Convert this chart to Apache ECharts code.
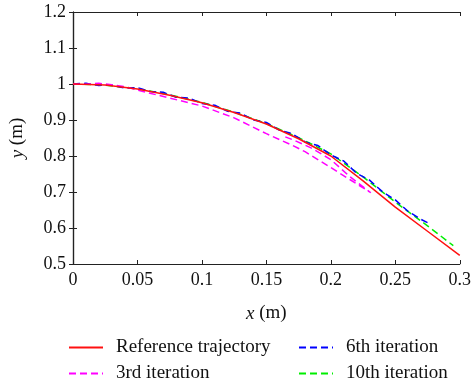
<!DOCTYPE html>
<html><head><meta charset="utf-8">
<script src="https://cdn.jsdelivr.net/npm/echarts@6/dist/echarts.min.js"></script>
<style>html,body{margin:0;padding:0;background:#fff}#c{width:474px;height:387px}</style>
</head><body><div id="c"></div>
<script>
// Data (x in m, y in m)
const refX = [0, 0.025, 0.05, 0.075, 0.1, 0.125, 0.15, 0.175, 0.2, 0.225, 0.25, 0.275, 0.3];
const refY = [1.000, 0.997, 0.986, 0.969, 0.948, 0.921, 0.889, 0.848, 0.800, 0.731, 0.658, 0.591, 0.524];

const it3X = [0, 0.01, 0.02, 0.03, 0.04, 0.05, 0.075, 0.1, 0.125, 0.15, 0.17, 0.18, 0.2, 0.215, 0.231, 0.215, 0.2, 0.185, 0.172, 0.162];
const it3Y = [1.000, 0.999, 1.002, 0.998, 0.993, 0.983, 0.961, 0.939, 0.906, 0.862, 0.830, 0.812, 0.768, 0.734, 0.698, 0.742, 0.790, 0.822, 0.843, 0.857];

const it6X = [0, 0.01, 0.02, 0.03, 0.04, 0.05, 0.06, 0.07, 0.08, 0.09, 0.1, 0.11, 0.12, 0.13, 0.14, 0.15, 0.16, 0.17, 0.18, 0.19, 0.2, 0.21, 0.22, 0.23, 0.24, 0.25, 0.26, 0.27, 0.276];
const it6Y = [1.000, 1.002, 0.996, 0.997, 0.989, 0.990, 0.979, 0.977, 0.963, 0.961, 0.946, 0.941, 0.924, 0.919, 0.900, 0.893, 0.872, 0.862, 0.839, 0.829, 0.803, 0.786, 0.752, 0.733, 0.701, 0.678, 0.646, 0.624, 0.613];

const it10X = [0, 0.025, 0.05, 0.075, 0.1, 0.125, 0.15, 0.175, 0.2, 0.225, 0.25, 0.275, 0.295];
const it10Y = [1.000, 0.997, 0.987, 0.970, 0.949, 0.922, 0.890, 0.851, 0.806, 0.742, 0.672, 0.606, 0.551];

const xTicks = {min: 0, max: 0.3, interval: 0.05};
const yTicks = {min: 0.5, max: 1.2, interval: 0.1};

const names = ['Reference trajectory', '3rd iteration', '6th iteration', '10th iteration'];
const colors = ['#ff1010', '#ff00ff', '#0000ff', '#00ee00'];

const pair = (xs, ys) => xs.map((x, i) => [x, ys[i]]);
const FONT = 'Liberation Serif';
const FS = 18;
const axisLine = {show: true, lineStyle: {color: '#222', width: 1.2}};
const tick = {show: true, inside: true, length: 4, lineStyle: {color: '#222', width: 1}};

const chart = echarts.init(document.getElementById('c'), null, {renderer: 'canvas'});

function mkSeries(i, data, dashed) {
  return {
    name: names[i], type: 'line', data: data, showSymbol: false, symbol: 'none',
    lineStyle: {color: colors[i], width: 1.5, type: dashed ? [7, 4] : 'solid'},
    itemStyle: {color: colors[i]},
    animation: false, z: 10 - i
  };
}

function mkLegend(name, left, top) {
  return {
    data: [name], left: left, top: top, itemWidth: 34, itemHeight: 14,
    selectedMode: false, padding: 0,
    itemStyle: {opacity: 0},
    textStyle: {fontFamily: FONT, fontSize: 19, color: '#111', padding: [0, 0, 0, 8]}
  };
}

chart.setOption({
  animation: false,
  textStyle: {fontFamily: FONT},
  grid: {left: 67, right: 12, top: 12, bottom: 123, containLabel: false},
  xAxis: [{
    type: 'value', min: xTicks.min, max: xTicks.max, interval: xTicks.interval,
    position: 'bottom',
    axisLine: axisLine, axisTick: tick, splitLine: {show: false},
    axisLabel: {fontFamily: FONT, fontSize: FS, color: '#111', margin: 7},
    name: '{i|x} (m)', nameLocation: 'middle', nameGap: 40,
    nameTextStyle: {fontFamily: FONT, fontSize: 19, color: '#111',
      rich: {i: {fontFamily: FONT, fontStyle: 'italic', fontSize: 19, color: '#111'}}}
  }, {
    type: 'value', min: xTicks.min, max: xTicks.max, interval: xTicks.interval,
    position: 'top', axisLine: axisLine, axisTick: tick, axisLabel: {show: false}, splitLine: {show: false}
  }],
  yAxis: [{
    type: 'value', min: yTicks.min, max: yTicks.max, interval: yTicks.interval,
    position: 'left',
    axisLine: axisLine, axisTick: tick, splitLine: {show: false},
    axisLabel: {fontFamily: FONT, fontSize: FS, color: '#111', margin: 7},
    name: '{i|y} (m)', nameLocation: 'middle', nameGap: 46, nameRotate: 90,
    nameTextStyle: {fontFamily: FONT, fontSize: 19, color: '#111',
      rich: {i: {fontFamily: FONT, fontStyle: 'italic', fontSize: 19, color: '#111'}}}
  }, {
    type: 'value', min: yTicks.min, max: yTicks.max, interval: yTicks.interval,
    position: 'right', axisLine: axisLine, axisTick: tick, axisLabel: {show: false}, splitLine: {show: false}
  }],
  legend: [
    mkLegend(names[0], 68, 338),
    mkLegend(names[2], 298, 338),
    mkLegend(names[1], 68, 364),
    mkLegend(names[3], 298, 364)
  ],
  series: [
    mkSeries(0, pair(refX, refY), false),
    mkSeries(1, pair(it3X, it3Y), true),
    mkSeries(2, pair(it6X, it6Y), true),
    mkSeries(3, pair(it10X, it10Y), true)
  ]
});
</script>
</body></html>
